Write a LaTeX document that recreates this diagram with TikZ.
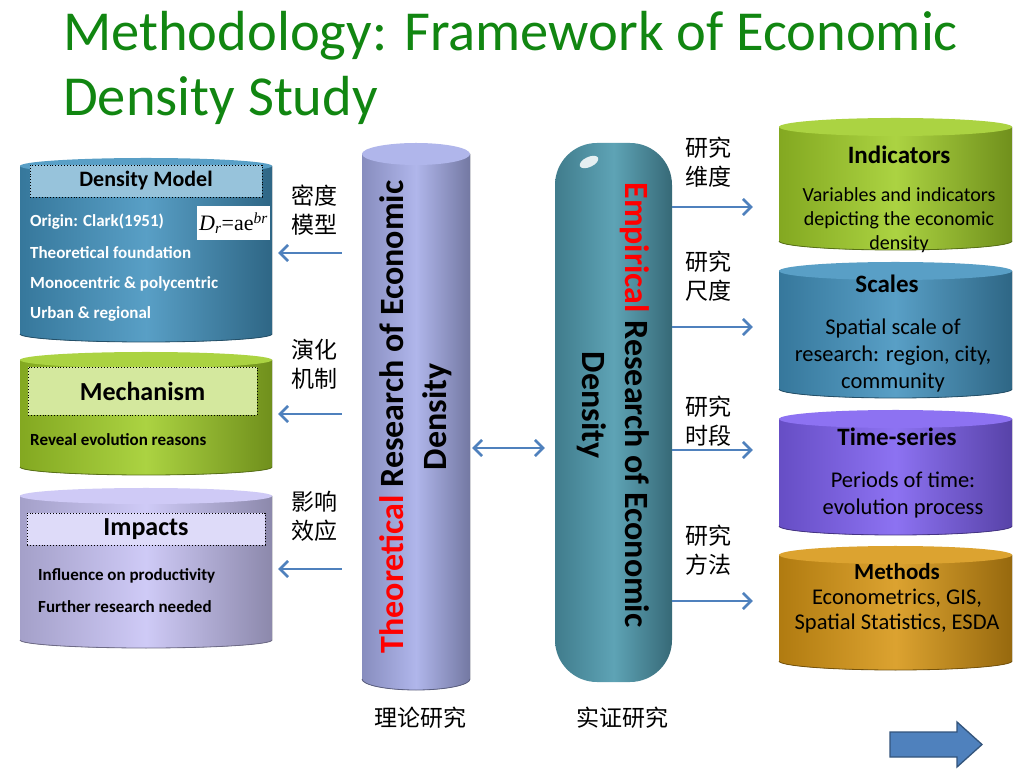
\documentclass[tikz,border=0pt]{standalone}
\usepackage{fontspec}
\setmainfont{Carlito}
\newfontfamily\cjk{Noto Sans CJK SC}
\newfontfamily\timesfont{Liberation Serif}
\usetikzlibrary{arrows.meta}
\definecolor{titlegreen}{RGB}{17,134,17}
\definecolor{cylblue}{RGB}{66,146,190}
\definecolor{cylgreen}{RGB}{160,205,40}
\definecolor{cyllilac}{RGB}{200,195,245}
\definecolor{cylpurple}{RGB}{125,95,240}
\definecolor{cylorange}{RGB}{215,150,20}
\definecolor{theocol}{RGB}{165,172,232}
\definecolor{empcol}{RGB}{80,155,175}
\definecolor{arrowblue}{RGB}{79,129,189}
\tikzset{
  drumbox/.style={inner sep=0, draw=none},
  headbox/.style={draw=black, dotted, line width=0.9pt, inner sep=0, minimum width=232,
    font=\fontsize{26}{30}\selectfont\bfseries},
  whiteline/.style={anchor=west, inner sep=0, text=white, font=\fontsize{17}{20}\selectfont\bfseries},
  darkline/.style={anchor=west, inner sep=0, text=black, font=\fontsize{17}{20}\selectfont\bfseries},
  righthead/.style={inner sep=0, font=\fontsize{25}{30}\selectfont\bfseries},
  rightbody/.style={inner sep=0, align=center},
  cnlabel/.style={inner sep=0, align=center, font=\cjk\fontsize{23}{29}\selectfont},
  vertlabel/.style={inner sep=0, align=center, font=\fontsize{34}{43}\selectfont\bfseries},
  conn/.style={-{Straight Barb[length=8pt,width=16pt]}, line width=2.6pt, arrowblue},
  conn2/.style={{Straight Barb[length=8pt,width=16pt]}-{Straight Barb[length=8pt,width=16pt]}, line width=2.6pt, arrowblue},
}
% cylinder: name, left, right, top, bottom, colour, end radius
\newcommand{\drum}[7]{%
  \fill[left color=#6!82!black, right color=#6!70!black, middle color=#6!88!white]
    (#2,#4-#7) -- (#2,#5+#7) arc[start angle=180, end angle=360, x radius={(#3-#2)/2}, y radius=#7]
    -- (#3,#4-#7) -- cycle;
  \draw[#6!55!black, line width=0.8pt] (#2,#5+#7) arc[start angle=180, end angle=360, x radius={(#3-#2)/2}, y radius=#7];
  \fill[#6!88!white] ({(#2+#3)/2},#4-#7) ellipse[x radius={(#3-#2)/2}, y radius=#7];
  \node[drumbox, minimum width={#3-#2}, minimum height={#4-#5}] (#1) at ({(#2+#3)/2},{(#4+#5)/2}) {};
}

\begin{document}
\begin{tikzpicture}[x=1pt, y=1pt]
\useasboundingbox[fill=white] (0,0) rectangle (1024,768);
% title
\node[anchor=base west, inner sep=0, align=left, text=titlegreen, font=\fontsize{56.5}{65}\selectfont] (title) at (63,652)
  {Methodology: Framework of Economic\\Density Study};

% left column
\drum{dm}{20}{272}{610}{426}{cylblue}{8}
\drum{mech}{20}{272}{416}{293}{cylgreen}{8}
\drum{imp}{20}{272}{280}{120}{cyllilac}{8}

\node[headbox, fill=cylblue!55!white, minimum height=32, font=\fontsize{22}{26}\selectfont\bfseries] (dmhead) at (146,587) {Density Model};
\node[whiteline] (dm1) at (30,546) {Origin: Clark(1951)};
\node[whiteline] (dm2) at (30,515) {Theoretical foundation};
\node[whiteline] (dm3) at (30,484) {Monocentric \& polycentric};
\node[whiteline] (dm4) at (30,454) {Urban \& regional};
\node[fill=white, minimum width=73, minimum height=34, inner sep=0, font=\timesfont\fontsize{22}{24}\selectfont] (formula) at (233.5,545)
  {\textit{D}\textsubscript{\textit{r}}=ae\textsuperscript{\textit{br}}};

\node[headbox, fill=cylgreen!45!white, minimum width=229, minimum height=48] (mechhead) at (142.5,377) {Mechanism};
\node[darkline] (mech1) at (30,328) {Reveal evolution reasons};

\node[headbox, fill=cyllilac!60!white, minimum width=238, minimum height=32] (imphead) at (146,239) {Impacts};
\node[darkline] (imp1) at (38,192) {Influence on productivity};
\node[darkline] (imp2) at (38,161) {Further research needed};

% middle: two pillars
\drum{theo}{362}{470}{625}{78}{theocol}{11}
\node[vertlabel, rotate=90] (theotext) at (416,351) {\textcolor{red}{Theoretical} Research of Economic\\Density};

\node[drumbox, rounded corners=42, minimum width=117, minimum height=539,
  left color=empcol!80!black, right color=empcol!68!black, middle color=empcol!92!white] (emp) at (613.5,355.5) {};
\fill[white, opacity=0.85, rotate around={25:(589,606)}] (589,606) ellipse[x radius=10, y radius=5];
\node[vertlabel, rotate=-90] (emptext) at (613,363) {\textcolor{red}{Empirical} Research of Economic\\Density};

\node[cnlabel] (theocn) at (420,50) {理论研究};
\node[cnlabel] (empcn) at (622,50) {实证研究};

\draw[conn2] ([xshift=2]theo.east |- 0,320) -- ([xshift=-10]emp.west |- 0,320);

% left labels and arrows
\node[cnlabel] (lab1) at (314,558) {密度\\模型};
\node[cnlabel] (lab2) at (314,404) {演化\\机制};
\node[cnlabel] (lab3) at (314,252) {影响\\效应};
\draw[conn] ([xshift=-20]theo.west |- 0,515) -- ([xshift=6]dm.east |- 0,515);
\draw[conn] ([xshift=-20]theo.west |- 0,354) -- ([xshift=6]mech.east |- 0,354);
\draw[conn] ([xshift=-20]theo.west |- 0,199) -- ([xshift=6]imp.east |- 0,199);

% right column
\drum{ind}{779}{1012}{650}{518}{cylgreen}{9}
\drum{sca}{779}{1012}{506}{370}{cylblue}{9}
\drum{tim}{779}{1012}{358}{233}{cylpurple}{9}
\drum{met}{779}{1012}{222}{98}{cylorange}{9}

\node[righthead] (indhead) at (899,613) {Indicators};
\node[rightbody, font=\fontsize{20}{24}\selectfont] (indbody) at (899,548)
  {Variables and indicators\\depicting the economic\\density};
\node[righthead] (scahead) at (887,484) {Scales};
\node[rightbody, font=\fontsize{22.5}{27}\selectfont] (scabody) at (893,412)
  {Spatial scale of\\research: region, city,\\community};
\node[righthead] (timhead) at (897,331) {Time-series};
\node[rightbody, font=\fontsize{22.5}{27}\selectfont] (timbody) at (903,273)
  {Periods of time:\\evolution process};
\node[righthead, font=\fontsize{23}{27}\selectfont\bfseries] (methead) at (897,196) {Methods};
\node[rightbody, font=\fontsize{22.5}{25}\selectfont] (metbody) at (897,157)
  {Econometrics, GIS,\\Spatial Statistics, ESDA};

\node[cnlabel] (rlab1) at (708,606) {研究\\维度};
\node[cnlabel] (rlab2) at (708,492) {研究\\尺度};
\node[cnlabel] (rlab3) at (708,347) {研究\\时段};
\node[cnlabel] (rlab4) at (708,218) {研究\\方法};
\draw[conn] (emp.east |- 0,561) -- ([xshift=-26]ind.west |- 0,561);
\draw[conn] (emp.east |- 0,441) -- ([xshift=-26]sca.west |- 0,441);
\draw[conn] (emp.east |- 0,318) -- ([xshift=-26]tim.west |- 0,318);
\draw[conn] (emp.east |- 0,167) -- ([xshift=-26]met.west |- 0,167);

% next-page arrow
\draw[fill=arrowblue, draw=arrowblue!65!black, line width=1.3pt]
  (890,11) -- (957,11) -- (957,1) -- (982,23.5) -- (957,46) -- (957,36) -- (890,36) -- cycle;
\end{tikzpicture}
\end{document}
